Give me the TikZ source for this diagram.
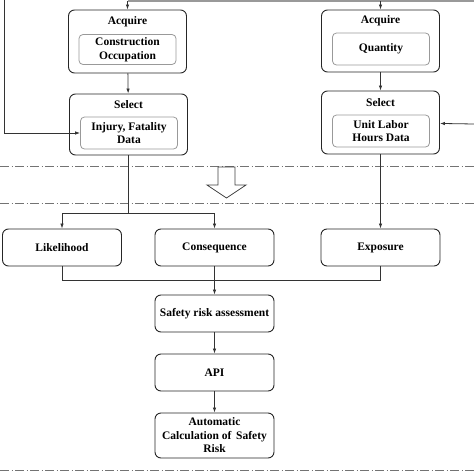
\documentclass[tikz,border=0pt]{standalone}
\usepackage{fontspec}
\setmainfont{Liberation Serif}
\usepackage{tikz}
\usetikzlibrary{arrows.meta}

\begin{document}
\begin{tikzpicture}[x=1pt, y=-1pt, >={Latex[length=5pt,width=3.5pt]},
    every node/.style={font=\bfseries\fontsize{11.5}{13.5}\selectfont, align=center, inner sep=0pt},
    outerbox/.style={draw=black!85, line width=0.9pt, rounded corners=6pt, minimum width=118pt},
    innerbox/.style={draw=black!40, line width=0.8pt, rounded corners=4pt, minimum width=97pt},
    flowbox/.style={draw=black!85, line width=0.9pt, rounded corners=6pt, minimum width=119pt, minimum height=37pt},
    link/.style={draw=black!80, line width=0.8pt},
    sepline/.style={draw=black!55, line width=0.8pt, dash pattern=on 9pt off 2.5pt on 1pt off 2.5pt}]
  \useasboundingbox (0, 0) rectangle (474, 474);
  % upper part: acquire and select
  \node[outerbox, minimum height=63pt] (acqL) at (127.5, 41.5) {};
  \node (acqLt) at (127.5, 22) {Acquire};
  \node[innerbox, minimum height=30pt] (conocc) at (127.5, 49.5) {Construction\\Occupation};
  \node[outerbox, minimum height=61pt] (selL) at (128.5, 124.5) {};
  \node (selLt) at (128.5, 105) {Select};
  \node[innerbox, minimum height=32pt] (injury) at (129, 133) {Injury, Fatality\\Data};
  \node[outerbox, minimum height=62pt] (acqR) at (380.5, 41) {};
  \node (acqRt) at (380.5, 21) {Acquire};
  \node[innerbox, minimum height=32pt] (qty) at (381, 49) {Quantity};
  \node[outerbox, minimum height=63pt] (selR) at (380.5, 122.5) {};
  \node (selRt) at (380.5, 103) {Select};
  \node[innerbox, minimum height=32pt] (ulh) at (381, 131) {Unit Labor\\Hours Data};
  % lower part
  \node[flowbox] (like) at (62, 247.5) {Likelihood};
  \node[flowbox] (cons) at (214.5, 247.5) {Consequence};
  \node[flowbox] (expo) at (380.5, 247.5) {Exposure};
  \node[flowbox] (sra) at (214.5, 313.5) {Safety risk assessment};
  \node[flowbox] (api) at (214.5, 372.5) {API};
  \node[flowbox, minimum height=45pt] (calc) at (214.5, 435.5) {Automatic\\Calculation of\, Safety\\Risk};
  % separators
  \draw[sepline] (0, 166) -- (474, 166);
  \draw[sepline] (0, 203) -- (474, 203);
  \draw[sepline] (0, 470) -- (474, 470);
  \draw[black!75, line width=0.8pt, fill=white] (218, 167) -- (235, 167) -- (235, 185) -- (246, 185)
    -- (226.5, 198) -- (207, 185) -- (218, 185) -- cycle;
  % connectors
  \coordinate (topL) at (127.5, 1);
  \coordinate (topR) at (474, 1);
  \coordinate (fbL) at (4, 0);
  \coordinate (fbR) at (474, 124);
  \coordinate (splitL) at (128.5, 213);
  \coordinate (join) at (214.5, 280);
  \draw[black!40, line width=1.6pt] (topR) -- (topL);
  \draw[link, ->] (topL) -- (acqL);
  \draw[link, ->] (acqR.north |- topR) -- (acqR);
  \draw[link, ->] (fbL) |- (injury);
  \draw[link, ->] (fbR) -- (selR);
  \draw[link, ->] (acqL) -- (selL);
  \draw[link, ->] (acqR) -- (selR);
  \draw[link] (selL) -- (splitL);
  \draw[link, ->] (splitL) -| (like);
  \draw[link, ->] (splitL) -| (cons);
  \draw[link, ->] (selR) -- (expo);
  \draw[link] (like) |- (join);
  \draw[link] (expo) |- (join);
  \draw[link, ->] (cons) -- (sra);
  \draw[link, ->] (sra) -- (api);
  \draw[link, ->] (api) -- (calc);
\end{tikzpicture}
\end{document}
